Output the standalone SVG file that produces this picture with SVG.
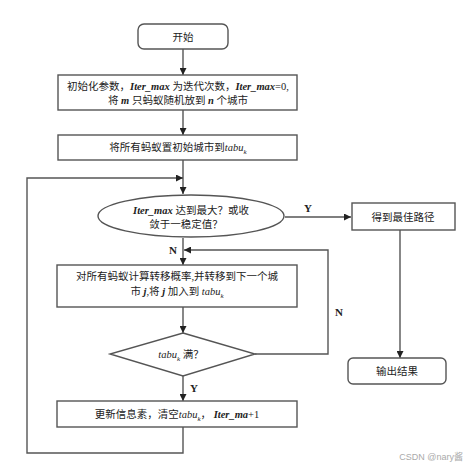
<svg xmlns="http://www.w3.org/2000/svg" width="474" height="468" viewBox="0 0 474 468">
<defs>
<marker id="ah" viewBox="0 0 10 10" refX="10" refY="5" markerWidth="7" markerHeight="7" markerUnits="userSpaceOnUse" orient="auto">
<path d="M0,0 L10,5 L0,10 z" fill="#222"/>
</marker>
<style>
.box{fill:#fff;stroke:#555;stroke-width:1.4}
.ln{fill:none;stroke:#555;stroke-width:1.4}
.t{font-family:"Liberation Serif","Noto Sans CJK SC",serif;font-size:10.5px;fill:#222;text-anchor:middle}
.i{font-style:italic}
.b{font-weight:bold}
.lbl{font-family:"Liberation Serif",serif;font-size:11px;font-weight:bold;fill:#222;text-anchor:middle}
</style>
</defs>
<rect width="474" height="468" fill="#fff"/>
<g id="connectors">
<path class="ln" d="M183,49 V75" marker-end="url(#ah)"/>
<path class="ln" d="M183,110 V135" marker-end="url(#ah)"/>
<path class="ln" d="M183,160 V194" marker-end="url(#ah)"/>
<path class="ln" d="M183,427 V453 H27 V178 H183"  marker-end="url(#ah)"/>
<path class="ln" d="M285,217 H351" marker-end="url(#ah)"/>
<path class="ln" d="M400,230 V358" marker-end="url(#ah)"/>
<path class="ln" d="M183,238 V265" marker-end="url(#ah)"/>
<path class="ln" d="M255,354 H328 V250 H184" marker-end="url(#ah)"/>
<path class="ln" d="M183,307 V333" marker-end="url(#ah)"/>
<path class="ln" d="M183,376 V401" marker-end="url(#ah)"/>
<text class="lbl" x="308" y="212">Y</text>
<text class="lbl" x="173" y="254">N</text>
<text class="lbl" x="339" y="316">N</text>
<text class="lbl" x="194" y="392">Y</text>
</g>
<g id="start">
<rect class="box" x="138" y="24" width="90" height="25" rx="6"/>
<text class="t" x="183" y="41">开始</text>
</g>
<g id="init">
<rect class="box" x="58" y="75" width="239" height="35"/>
<text class="t" x="178" y="90">初始化参数，<tspan class="i b">Iter_max</tspan> 为迭代次数，<tspan class="i b">Iter_max</tspan>=0,</text>
<text class="t" x="178" y="104">将 <tspan class="i b">m</tspan> 只蚂蚁随机放到 <tspan class="i b">n</tspan> 个城市</text>
</g>
<g id="place">
<rect class="box" x="58" y="135" width="239" height="25"/>
<text class="t" x="178" y="151">将所有蚂蚁置初始城市到<tspan class="i">tabu</tspan><tspan class="i" font-size="7" dy="3">k</tspan></text>
</g>
<g id="check">
<ellipse class="box" cx="191" cy="216" rx="93" ry="21"/>
<text class="t" x="191" y="214"><tspan class="i b">Iter_max</tspan> 达到最大？或收</text>
<text class="t" x="186" y="228">敛于一稳定值？</text>
</g>
<g id="best">
<rect class="box" x="352" y="203" width="103" height="27"/>
<text class="t" x="403" y="221">得到最佳路径</text>
</g>
<g id="output">
<rect class="box" x="348" y="358" width="98" height="26" rx="5"/>
<text class="t" x="397" y="375">输出结果</text>
</g>
<g id="move">
<rect class="box" x="57" y="265" width="240" height="42"/>
<text class="t" x="177" y="280">对所有蚂蚁计算转移概率,并转移到下一个城</text>
<text class="t" x="177" y="295">市 <tspan class="i b">j</tspan>,将 <tspan class="i b">j</tspan> 加入到 <tspan class="i">tabu</tspan><tspan class="i" font-size="7" dy="3">k</tspan></text>
</g>
<g id="full">
<polygon class="box" points="183,333 255,354 183,376 110,354"/>
<text class="t" x="181" y="358"><tspan class="i">tabu</tspan><tspan class="i" font-size="7" dy="3">k</tspan><tspan dy="-3"> 满？</tspan></text>
</g>
<g id="update">
<rect class="box" x="57" y="401" width="240" height="26"/>
<text class="t" x="177" y="418">更新信息素，清空<tspan class="i">tabu</tspan><tspan class="i" font-size="7" dy="3">k</tspan><tspan dy="-3">， </tspan><tspan class="i b">Iter_ma</tspan>+1</text>
</g>
<text x="463" y="460" font-family="Liberation Sans,Noto Sans CJK SC,sans-serif" font-size="9" fill="#aaa" text-anchor="end">CSDN @nary酱</text>
</svg>
